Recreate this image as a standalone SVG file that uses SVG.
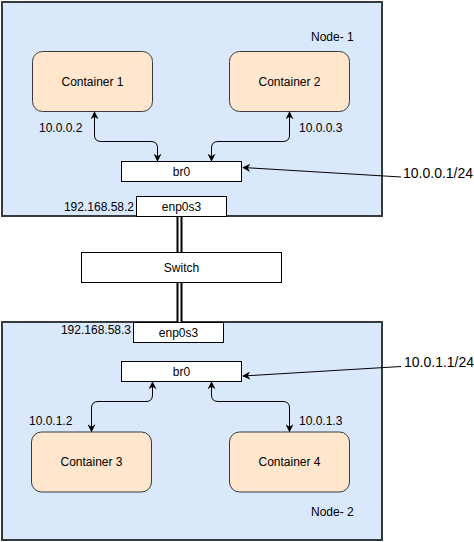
<svg xmlns="http://www.w3.org/2000/svg" width="474" height="542" viewBox="0 0 474 542">
<style>
text{font-family:"Liberation Sans",Arial,sans-serif;font-size:12px;fill:#000}
.node{fill:#dae8fc;stroke:#36393d;stroke-width:2}
.ctr{fill:#ffe6cc;stroke:#36393d;stroke-width:1}
.box{fill:#fff;stroke:#000;stroke-width:1}
.c{fill:none;stroke:#000;stroke-width:1}
.big{font-size:14px}
</style>
<defs>
<marker id="ah" viewBox="0 0 10 10" refX="9" refY="5" markerWidth="8" markerHeight="8" markerUnits="userSpaceOnUse" orient="auto-start-reverse">
<path d="M0,0 L10,5 L0,10 L3,5 Z" fill="#000"/>
</marker>
</defs>
<g id="node1">
<rect class="node" x="2" y="2" width="380" height="214"/>
<text x="311" y="37" dominant-baseline="central">Node- 1</text>
</g>
<g id="node2">
<rect class="node" x="2" y="322" width="380" height="218"/>
<text x="311" y="512" dominant-baseline="central">Node- 2</text>
</g>
<g id="container1">
<rect class="ctr" x="32.5" y="51.5" width="120" height="60" rx="10"/>
<text x="92.5" y="81.5" text-anchor="middle" dominant-baseline="central">Container 1</text>
</g>
<g id="container2">
<rect class="ctr" x="229.5" y="51.5" width="120" height="60" rx="10"/>
<text x="289.5" y="81.5" text-anchor="middle" dominant-baseline="central">Container 2</text>
</g>
<g id="br0-1">
<rect class="box" x="121.5" y="161.5" width="120" height="20"/>
<text x="181.5" y="171.5" text-anchor="middle" dominant-baseline="central">br0</text>
</g>
<g id="enp0s3-1">
<rect class="box" x="136.5" y="196.5" width="90" height="20"/>
<text x="181.5" y="206.5" text-anchor="middle" dominant-baseline="central">enp0s3</text>
<text x="134" y="206.5" text-anchor="end" dominant-baseline="central">192.168.58.2</text>
</g>
<g id="switch">
<rect class="box" x="81.5" y="252.5" width="200" height="30"/>
<text x="181.5" y="267.5" text-anchor="middle" dominant-baseline="central">Switch</text>
</g>
<g id="enp0s3-2">
<rect class="box" x="133.5" y="322.5" width="90" height="20"/>
<text x="178.5" y="332.5" text-anchor="middle" dominant-baseline="central">enp0s3</text>
<text x="131" y="330" text-anchor="end" dominant-baseline="central">192.168.58.3</text>
</g>
<g id="br0-2">
<rect class="box" x="121.5" y="361.5" width="120" height="20"/>
<text x="181.5" y="371.5" text-anchor="middle" dominant-baseline="central">br0</text>
</g>
<g id="container3">
<rect class="ctr" x="31.5" y="432" width="120" height="60" rx="10"/>
<text x="91.5" y="462" text-anchor="middle" dominant-baseline="central">Container 3</text>
</g>
<g id="container4">
<rect class="ctr" x="229.5" y="432" width="120" height="60" rx="10"/>
<text x="289.5" y="462" text-anchor="middle" dominant-baseline="central">Container 4</text>
</g>
<g id="connectors">
<path class="c" d="M94.5,112 V135 Q94.5,141.5 101,141.5 H151 Q157.5,141.5 157.5,148 V161" marker-start="url(#ah)" marker-end="url(#ah)"/>
<path class="c" d="M289.5,112 V135 Q289.5,141.5 283,141.5 H218 Q211.5,141.5 211.5,148 V161" marker-start="url(#ah)" marker-end="url(#ah)"/>
<path class="c" d="M152.5,382 V395 Q152.5,401.5 146,401.5 H98 Q91.5,401.5 91.5,408 V431.5" marker-start="url(#ah)" marker-end="url(#ah)"/>
<path class="c" d="M211.5,382 V395 Q211.5,401.5 218,401.5 H283 Q289.5,401.5 289.5,408 V431.5" marker-start="url(#ah)" marker-end="url(#ah)"/>
<path d="M179.5,217 V252 M179.5,283 V322" stroke="#000" stroke-width="6" fill="none"/>
<path d="M179.5,217 V252 M179.5,283 V322" stroke="#fff" stroke-width="2" fill="none"/>
<path class="c" d="M401,177 L243,167.5" marker-end="url(#ah)"/>
<path class="c" d="M401,366.5 L243,376" marker-end="url(#ah)"/>
</g>
<g id="labels">
<text x="39" y="128" dominant-baseline="central">10.0.0.2</text>
<text x="299" y="128" dominant-baseline="central">10.0.0.3</text>
<text x="29" y="420.5" dominant-baseline="central">10.0.1.2</text>
<text x="299" y="420.5" dominant-baseline="central">10.0.1.3</text>
<text class="big" x="403" y="172.5" dominant-baseline="central">10.0.0.1/24</text>
<text class="big" x="404" y="362" dominant-baseline="central">10.0.1.1/24</text>
</g>
</svg>
